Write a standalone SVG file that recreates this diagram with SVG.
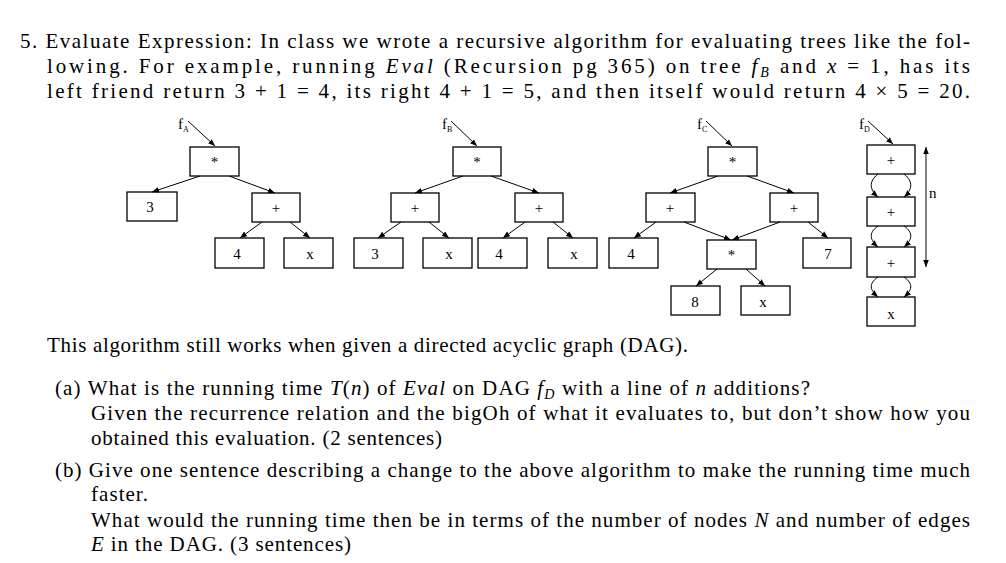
<svg xmlns="http://www.w3.org/2000/svg" width="1006" height="563" viewBox="0 0 1006 563">
<style>
text{font-family:"Liberation Serif","DejaVu Serif",serif;fill:#000}
.t{font-size:21px}
.n rect{fill:#fff;stroke:#000;stroke-width:1.3}
.n text{font-size:15px;text-anchor:middle}
.c line,.c path{stroke:#000;stroke-width:1;fill:none;marker-end:url(#a)}
.lab{font-size:15px}
.sub{font-size:8px}
</style>
<defs>
<marker id="a" viewBox="0 0 10 10" refX="10" refY="5" markerWidth="7" markerHeight="7" orient="auto-start-reverse" markerUnits="userSpaceOnUse"><path d="M0,1 L10,5 L0,9 z" fill="#000"/></marker>
</defs>
<g id="text">
<text class="t" x="20" y="48" textLength="950" lengthAdjust="spacing">5. Evaluate Expression: In class we wrote a recursive algorithm for evaluating trees like the fol-</text>
<text class="t" x="47" y="73" textLength="923" lengthAdjust="spacing">lowing.  For example, running <tspan font-style="italic">Eval</tspan> (Recursion pg 365) on tree <tspan font-style="italic">f</tspan><tspan font-style="italic" font-size="14px" dy="4">B</tspan><tspan dy="-4"> and </tspan><tspan font-style="italic">x</tspan> = 1, has its</text>
<text class="t" x="47" y="98" textLength="923" lengthAdjust="spacing">left friend return 3 + 1 = 4, its right 4 + 1 = 5, and then itself would return 4 × 5 = 20.</text>
<text class="t" x="47" y="352" textLength="641" lengthAdjust="spacing">This algorithm still works when given a directed acyclic graph (DAG).</text>
<text class="t" x="55" y="395" textLength="755" lengthAdjust="spacing">(a) What is the running time <tspan font-style="italic">T</tspan>(<tspan font-style="italic">n</tspan>) of <tspan font-style="italic">Eval</tspan> on DAG <tspan font-style="italic">f</tspan><tspan font-style="italic" font-size="14px" dy="4">D</tspan><tspan dy="-4"> with a line of </tspan><tspan font-style="italic">n</tspan> additions?</text>
<text class="t" x="91" y="420" textLength="879" lengthAdjust="spacing">Given the recurrence relation and the bigOh of what it evaluates to, but don’t show how you</text>
<text class="t" x="91" y="445" textLength="351" lengthAdjust="spacing">obtained this evaluation. (2 sentences)</text>
<text class="t" x="55" y="477" textLength="915" lengthAdjust="spacing">(b) Give one sentence describing a change to the above algorithm to make the running time much</text>
<text class="t" x="91" y="501" textLength="57" lengthAdjust="spacing">faster.</text>
<text class="t" x="91" y="527" textLength="879" lengthAdjust="spacing">What would the running time then be in terms of the number of nodes <tspan font-style="italic">N</tspan> and number of edges</text>
<text class="t" x="91" y="551" textLength="260" lengthAdjust="spacing"><tspan font-style="italic">E</tspan> in the DAG. (3 sentences)</text>
</g>
<g id="labels">
<text class="lab" x="178" y="129">f<tspan class="sub" dy="3">A</tspan></text>
<text class="lab" x="442" y="129">f<tspan class="sub" dy="3">B</tspan></text>
<text class="lab" x="697" y="129">f<tspan class="sub" dy="3">C</tspan></text>
<text class="lab" x="859" y="129">f<tspan class="sub" dy="3">D</tspan></text>
<text class="lab" x="929" y="198">n</text>
</g>
<g id="A_mul" class="n"><rect x="190" y="147" width="49" height="29"/><text x="214.5" y="167">*</text></g>
<g id="A_3" class="n"><rect x="127" y="192" width="50" height="29"/><text x="150" y="212">3</text></g>
<g id="A_plus" class="n"><rect x="252" y="193" width="48" height="29"/><text x="276" y="213">+</text></g>
<g id="A_4" class="n"><rect x="215" y="238" width="49" height="30"/><text x="237" y="259">4</text></g>
<g id="A_x" class="n"><rect x="284" y="238" width="49" height="30"/><text x="310" y="259">x</text></g>
<g id="B_mul" class="n"><rect x="453" y="147" width="48" height="29"/><text x="477" y="167">*</text></g>
<g id="B_p1" class="n"><rect x="391" y="193" width="48" height="29"/><text x="415" y="213">+</text></g>
<g id="B_p2" class="n"><rect x="515" y="193" width="48" height="29"/><text x="539" y="213">+</text></g>
<g id="B_3" class="n"><rect x="354" y="238" width="49" height="30"/><text x="375" y="259">3</text></g>
<g id="B_x1" class="n"><rect x="423" y="238" width="49" height="30"/><text x="449" y="259">x</text></g>
<g id="B_4" class="n"><rect x="478" y="238" width="49" height="30"/><text x="499" y="259">4</text></g>
<g id="B_x2" class="n"><rect x="548" y="238" width="49" height="30"/><text x="574" y="259">x</text></g>
<g id="C_mul" class="n"><rect x="708" y="147" width="49" height="29"/><text x="732.5" y="167">*</text></g>
<g id="C_p1" class="n"><rect x="646" y="193" width="49" height="29"/><text x="670" y="213">+</text></g>
<g id="C_p2" class="n"><rect x="770" y="193" width="48" height="29"/><text x="794" y="213">+</text></g>
<g id="C_4" class="n"><rect x="609" y="238" width="49" height="30"/><text x="631" y="259">4</text></g>
<g id="C_mul2" class="n"><rect x="707" y="240" width="49" height="29"/><text x="731.5" y="260">*</text></g>
<g id="C_7" class="n"><rect x="803" y="238" width="48" height="30"/><text x="828" y="259">7</text></g>
<g id="C_8" class="n"><rect x="671" y="286" width="49" height="29"/><text x="695" y="307">8</text></g>
<g id="C_x" class="n"><rect x="741" y="286" width="49" height="29"/><text x="763" y="307">x</text></g>
<g id="D_p1" class="n"><rect x="867" y="145" width="48" height="29"/><text x="891" y="165">+</text></g>
<g id="D_p2" class="n"><rect x="867" y="197" width="48" height="29"/><text x="891" y="217">+</text></g>
<g id="D_p3" class="n"><rect x="867" y="247" width="48" height="30"/><text x="891" y="268">+</text></g>
<g id="D_x" class="n"><rect x="867" y="297" width="48" height="29"/><text x="891" y="319">x</text></g>
<g id="connectors" class="c">
<line x1="188" y1="121" x2="215" y2="146"/>
<line x1="200" y1="176" x2="152" y2="192"/>
<line x1="229" y1="176" x2="275" y2="193"/>
<line x1="262" y1="222" x2="240" y2="238"/>
<line x1="290" y1="222" x2="310" y2="238"/>
<line x1="451" y1="121" x2="477" y2="146"/>
<line x1="463" y1="176" x2="415" y2="193"/>
<line x1="491" y1="176" x2="539" y2="193"/>
<line x1="401" y1="222" x2="378" y2="238"/>
<line x1="429" y1="222" x2="449" y2="238"/>
<line x1="525" y1="222" x2="503" y2="238"/>
<line x1="553" y1="222" x2="573" y2="238"/>
<line x1="706" y1="121" x2="732" y2="146"/>
<line x1="718" y1="176" x2="670" y2="193"/>
<line x1="747" y1="176" x2="794" y2="193"/>
<line x1="656" y1="222" x2="634" y2="238"/>
<line x1="684" y1="222" x2="731" y2="240"/>
<line x1="780" y1="222" x2="732" y2="240"/>
<line x1="808" y1="222" x2="828" y2="238"/>
<line x1="717" y1="269" x2="696" y2="286"/>
<line x1="746" y1="269" x2="765" y2="286"/>
<line x1="868" y1="121" x2="893" y2="144"/>
<path d="M878,174 C868,182 870,190 878,197"/>
<path d="M904,174 C914,182 912,190 904,197"/>
<path d="M878,226 C868,233 870,240 878,247"/>
<path d="M904,226 C914,233 912,240 904,247"/>
<path d="M878,277 C868,284 870,290 878,297"/>
<path d="M904,277 C914,284 912,290 904,297"/>
<line x1="926" y1="157" x2="926" y2="147"/>
<line x1="926" y1="157" x2="926" y2="267"/>
</g>
</svg>
